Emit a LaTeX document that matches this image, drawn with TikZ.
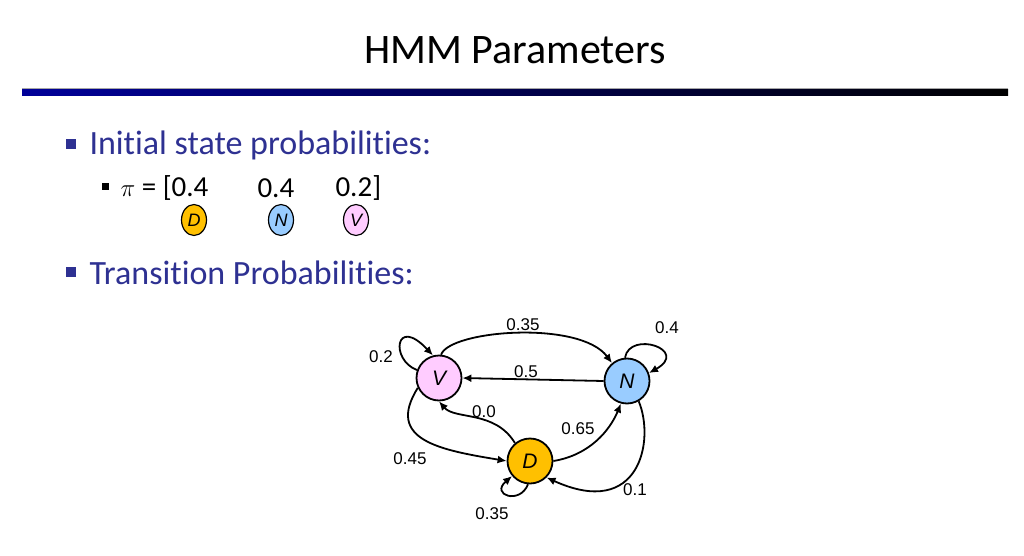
\documentclass[tikz,border=0pt]{standalone}
\usepackage{fontspec}
\setmainfont{Carlito}[Ligatures=NoCommon]
\newfontfamily\arial{Liberation Sans}
\usetikzlibrary{arrows.meta,shapes.geometric}
\definecolor{bluetext}{RGB}{46,49,146}
\definecolor{dgold}{RGB}{255,192,0}
\definecolor{nblue}{RGB}{153,204,255}
\definecolor{vpink}{RGB}{255,204,255}
\begin{document}
\begin{tikzpicture}[x=1pt,y=-1pt,
  st/.style={circle,draw=black,line width=1.8pt,minimum size=45pt,inner sep=0pt,font=\arial\fontsize{21}{21}\selectfont\itshape},
  sm/.style={ellipse,draw=black,line width=1.2pt,minimum width=25pt,minimum height=31pt,inner sep=0pt,font=\arial\fontsize{18}{18}\selectfont\itshape},
  ed/.style={-{Latex[length=9pt,width=8pt]},line width=1.8pt},
  lb/.style={font=\arial\fontsize{17}{17}\selectfont},
  bt/.style={anchor=west,font=\fontsize{34}{34}\selectfont,text=bluetext},
  st2/.style={anchor=west,font=\fontsize{29}{29}\selectfont}]
\useasboundingbox (0,0) rectangle (1024,556);
\fill[white] (0,0) rectangle (1024,556);
\node (title) at (515,50) {\fontsize{42}{42}\selectfont HMM Parameters};
\fill[gray!70] (22,88) rectangle (1008,90);
\shade[left color=blue!60!black,right color=black] (22,90) rectangle (1008,96);
\fill[bluetext] (66,139) rectangle (76,149);
\node[bt] (t1) at (86,145) {Initial state probabilities:};
\fill[black] (102,183) rectangle (109,190);
\node[st2] (pi) at (117,188) {$\pi$ = [0.4};
\node[st2] (p2) at (254,188) {0.4};
\node[st2] (p3) at (332,188) {0.2]};
\node[sm,fill=dgold] (sd) at (194,220) {D};
\node[sm,fill=nblue] (sn) at (281,220) {N};
\node[sm,fill=vpink] (sv) at (356,220) {V};
\fill[bluetext] (66,267) rectangle (76,277);
\node[bt] (t2) at (86,273) {Transition Probabilities:};
\node[st,fill=vpink] (V) at (439,378) {V};
\node[st,fill=nblue] (N) at (627,381) {N};
\node[st,fill=dgold] (D) at (530,461) {D};
\draw[ed] (V.160) .. controls (390,360) and (395,315) .. (V.105);
\draw[ed] (V.85) .. controls (450,330) and (580,320) .. (N.130);
\draw[ed] (N.180) -- (V.0);
\draw[ed] (N.95) .. controls (630,330) and (690,350) .. (N.20);
\draw[ed] (D.130) .. controls (495,410) and (455,420) .. (V.270);
\draw[ed] (V.205) .. controls (385,440) and (440,450) .. (D.180);
\draw[ed] (D.0) .. controls (590,455) and (610,430) .. (N.255);
\draw[ed] (N.300) .. controls (655,440) and (640,520) .. (D.315);
\draw[ed] (D.265) .. controls (520,505) and (490,495) .. (D.220);
\node[lb] (l1) at (381,357) {0.2};
\node[lb] (l2) at (523,325) {0.35};
\node[lb] (l3) at (526,372) {0.5};
\node[lb] (l4) at (667,328) {0.4};
\node[lb] (l5) at (484,412) {0.0};
\node[lb] (l6) at (410,459) {0.45};
\node[lb] (l7) at (578,429) {0.65};
\node[lb] (l8) at (635,490) {0.1};
\node[lb] (l9) at (492,514) {0.35};
\end{tikzpicture}
\end{document}
